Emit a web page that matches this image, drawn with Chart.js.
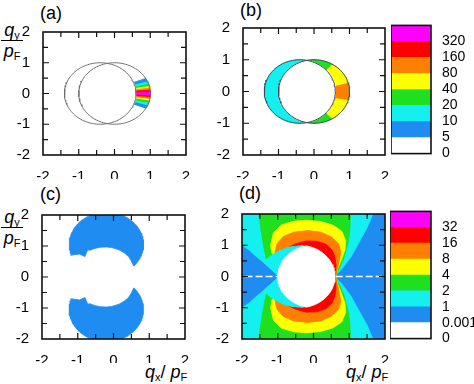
<!DOCTYPE html>
<html>
<head>
<meta charset="utf-8">
<script src="https://cdn.jsdelivr.net/npm/chart.js@4"></script>
<style>
  body { margin: 0; width: 474px; height: 384px; background: #fff; position: relative; overflow: hidden; font-family: 'Liberation Sans', 'DejaVu Sans', sans-serif; color: #000; }
  canvas { position: absolute; }
  .tag { position: absolute; font-size: 18px; line-height: 20px; }
  .frac { position: absolute; width: 22px; font-size: 18px; text-align: center; }
  .frac .num { line-height: 16px; padding-bottom: 2px; border-bottom: 1px solid #000; }
  .frac .den { line-height: 18px; padding-top: 1px; }
  .xt { position: absolute; font-size: 18px; line-height: 20px; white-space: nowrap; }
  sub { font-size: 11px; vertical-align: -3px; line-height: 0; }
</style>
</head>
<body>
<div class="tag" style="left:40px; top:3px">(a)</div>
<div class="tag" style="left:240px; top:0px">(b)</div>
<div class="tag" style="left:40px; top:184px">(c)</div>
<div class="tag" style="left:239px; top:183px">(d)</div>
<div class="frac" style="left:1px; top:22px"><div class="num"><i>q</i><sub>y</sub></div><div class="den"><i>p</i><sub>F</sub></div></div>
<div class="frac" style="left:1px; top:209px"><div class="num"><i>q</i><sub>y</sub></div><div class="den"><i>p</i><sub>F</sub></div></div>
<div class="xt" style="left:145px; top:362px"><i>q</i><sub>x</sub>/ <i>p</i><sub>F</sub></div>
<div class="xt" style="left:346px; top:362px"><i>q</i><sub>x</sub>/ <i>p</i><sub>F</sub></div>

<canvas id="pa"></canvas>
<canvas id="pb"></canvas>
<canvas id="pc"></canvas>
<canvas id="pd"></canvas>
<canvas id="cbb"></canvas>
<canvas id="cbd"></canvas>

<script>
// Axis ticks
var axisTicks = [-2, -1, 0, 1, 2];
var innerTicks = [-1.5, -1, -0.5, 0, 0.5, 1, 1.5];

// The two unit circles: centre x, centre y, radius
var circle1 = [0, 0, 1];
var circle2 = [-0.4, 0, 1];

// Colour scale, lowest level first
var levelColors = ['#ffffff', '#1f8cf2', '#14f0f0', '#1ee01e', '#ffff00', '#ff8000', '#ff0000', '#ff00ff'];
var levelsB = ['0', '5', '10', '20', '40', '80', '160', '320'];
var levelsD = ['0', '0.001', '1', '2', '4', '8', '16', '32'];

// (a) band edges where they reach circle1 (qy/pF), outermost first
var bandEdgesA = [0.49, 0.38, 0.30, 0.23, 0.17, 0.11, 0.05];
var bandLevelsA = [1, 2, 3, 4, 5, 6, 7];

// (b) band edges in degrees: outer on circle1, inner on circle2
var yellowB = [59, -59, -42, 42];
var orangeB = [16, -15, -11, 10];

// (c) upper blob: outer circle, its arc (deg) and ragged lower edge
var blobCircle = [-0.2, 1.05, 1.04];
var blobArc = [199, -42];
var blobEdge = [[0.56, 0.36], [0.50, 0.52], [0.42, 0.66], [0.30, 0.78], [0.15, 0.88], [-0.05, 0.95],
  [-0.2, 0.97], [-0.38, 0.96], [-0.55, 0.91], [-0.66, 0.86], [-0.72, 0.88], [-0.80, 0.66],
  [-0.95, 0.74], [-1.21, 0.70]];

// (d) upper half contours (lower half is the mirror)
var dCyan = [[-2.2, 2.2], [-2.2, 1.0], [-2, 1.0], [-1.8, 0.85], [-1.62, 0.66], [-1.42, 0.47], [-1.2, 0.25],
  [-1.0, 0.03], [0.62, 0.03], [0.80, 0.25], [1.05, 0.63], [1.30, 1.15], [1.50, 1.56], [1.66, 2.0], [1.7, 2.2]];
var dGreen = [[-1.32, 0.56], [-1.40, 1.0], [-1.47, 1.5], [-1.53, 2.0], [-1.56, 2.2], [1.05, 2.2], [1.03, 2.0],
  [1.02, 1.56], [0.98, 1.15], [0.86, 0.63], [0.72, 0.25], [0.62, 0.03]];
var dYellow = [[-1.16, 0.73], [-1.2, 1.0], [-1.12, 1.4], [-0.9, 1.65], [-0.55, 1.77], [-0.2, 1.8], [0.2, 1.76],
  [0.55, 1.64], [0.79, 1.45], [0.9, 1.15], [0.88, 0.85], [0.8, 0.6], [0.68, 0.25], [0.62, 0.03]];
var dOrange = [[-1.08, 0.76], [-1.02, 1.05], [-0.85, 1.28], [-0.55, 1.42], [-0.15, 1.47], [0.2, 1.42],
  [0.5, 1.27], [0.70, 1.05], [0.76, 0.8], [0.72, 0.5], [0.66, 0.2], [0.62, 0.03]];
var dRed = [[-0.7, 0.93], [-0.5, 1.05], [-0.2, 1.14], [0.1, 1.13], [0.35, 1.03], [0.52, 0.85], [0.60, 0.63],
  [0.63, 0.35], [0.62, 0.03]];
var dInside = [[-0.3, 0.3], [-0.75, 0.55]];
var dPatch = [[-1.36, 0.5], [-1.2, 0.66], [-1.0, 0.8], [-0.8, 0.9], [-0.6, 0.96], [-0.3, 0.99], [-0.2, 0.9],
  [-0.6, 0.3], [-0.98, 0.02], [-1.2, 0.25], [-1.42, 0.47]];
var dGaps = [[-1.9, -1.0], [0.62, 1.9]];

var FONT = { family: "'Liberation Sans', 'DejaVu Sans', sans-serif", size: 15 };
var BARFONT = { family: "'Liberation Sans', 'DejaVu Sans', sans-serif", size: 14 };

// helpers
function pts(list) {
  return list.map(function(p) { return { x: p[0], y: p[1] }; });
}
function flip(list) {
  return list.map(function(p) { return [p[0], -p[1]]; });
}
function arc(c, a0, a1) {
  var out = [], n = Math.max(2, Math.ceil(Math.abs(a1 - a0) / 3));
  for (var i = 0; i <= n; i++) {
    var a = (a0 + (a1 - a0) * i / n) * Math.PI / 180;
    out.push({ x: c[0] + c[2] * Math.cos(a), y: c[1] + c[2] * Math.sin(a) });
  }
  return out;
}
function poly(data, color) {
  return { data: data, backgroundColor: color, borderColor: color, borderWidth: 0.8,
    fill: 'shape', showLine: true, pointRadius: 0 };
}
function outline(data, color) {
  return { data: data, borderColor: color, borderWidth: 1, fill: false, showLine: true, pointRadius: 0 };
}

// where the circles cross
var meetX = (circle1[0] + circle2[0]) / 2;
var meetY = Math.sqrt(circle1[2] * circle1[2] - Math.pow(meetX - circle1[0], 2));
var ang1 = Math.atan2(meetY, meetX - circle1[0]) * 180 / Math.PI;
var ang2 = Math.atan2(meetY, meetX - circle2[0]) * 180 / Math.PI;
var lens = arc(circle2, ang2, -ang2).concat(arc(circle1, 360 - ang1, ang1));

// inward ticks and frame
var frame = {
  id: 'frame',
  afterDatasetsDraw: function(chart) {
    var a = chart.chartArea, ctx = chart.ctx;
    var sx = chart.scales.x, sy = chart.scales.y;
    ctx.save();
    ctx.strokeStyle = '#111';
    if (sx.type === 'linear') {
      ctx.lineWidth = 1.2;
      innerTicks.forEach(function(v) {
        var len = v % 1 === 0 ? 6 : 5;
        var x = sx.getPixelForValue(v), y = sy.getPixelForValue(v);
        ctx.beginPath();
        ctx.moveTo(x, a.bottom); ctx.lineTo(x, a.bottom - len);
        ctx.moveTo(x, a.top); ctx.lineTo(x, a.top + len);
        ctx.moveTo(a.left, y); ctx.lineTo(a.left + len, y);
        ctx.moveTo(a.right, y); ctx.lineTo(a.right - len, y);
        ctx.stroke();
      });
    }
    ctx.lineWidth = 1.6;
    ctx.strokeRect(a.left, a.top, a.right - a.left, a.bottom - a.top);
    ctx.restore();
  }
};

function panel(id, box, layers) {
  var cv = document.getElementById(id);
  cv.width = box[2] + 46;
  cv.height = box[3] + 34;
  cv.style.left = (box[0] - 36) + 'px';
  cv.style.top = (box[1] - 10) + 'px';
  return new Chart(cv, {
    type: 'scatter',
    data: { datasets: layers.slice().reverse() },
    options: {
      responsive: false,
      animation: false,
      events: [],
      layout: { padding: { top: 10, right: 10, left: 0, bottom: 0 } },
      plugins: { legend: { display: false }, tooltip: { enabled: false } },
      scales: {
        x: {
          min: -2, max: 2,
          afterBuildTicks: function(s) { s.ticks = axisTicks.map(function(v) { return { value: v }; }); },
          ticks: { padding: 5, font: FONT, color: '#000', autoSkip: false, maxRotation: 0 },
          grid: { display: false }, border: { display: false },
          afterFit: function(s) { s.height = 24; }
        },
        y: {
          min: -2, max: 2,
          afterBuildTicks: function(s) { s.ticks = axisTicks.map(function(v) { return { value: v }; }); },
          ticks: { padding: 5, font: FONT, color: '#000', autoSkip: false },
          grid: { display: false }, border: { display: false },
          afterFit: function(s) { s.width = 36; }
        }
      }
    },
    plugins: [frame]
  });
}

function colorbar(id, box, labels) {
  var cv = document.getElementById(id);
  cv.width = 474 - box[0];
  cv.height = box[3] + 20;
  cv.style.left = box[0] + 'px';
  cv.style.top = (box[1] - 10) + 'px';
  return new Chart(cv, {
    type: 'bar',
    data: {
      labels: [''],
      datasets: levelColors.map(function(c) {
        return { data: [1], backgroundColor: c, borderWidth: 0, barPercentage: 1, categoryPercentage: 1 };
      })
    },
    options: {
      responsive: false,
      animation: false,
      events: [],
      layout: { padding: { top: 10, bottom: 10, left: 0, right: 0 } },
      plugins: { legend: { display: false }, tooltip: { enabled: false } },
      scales: {
        x: { display: false, stacked: true },
        y: {
          position: 'right', stacked: true, min: 0, max: 8,
          afterBuildTicks: function(s) { s.ticks = labels.map(function(t, i) { return { value: i }; }); },
          ticks: { padding: 3, font: BARFONT, color: '#000', autoSkip: false,
            callback: function(v) { return labels[v] || ''; } },
          grid: { display: false }, border: { display: false },
          afterFit: function(s) { s.width = 474 - box[0] - box[2]; }
        }
      }
    },
    plugins: [frame]
  });
}

// (a)
var layersA = [];
bandEdgesA.forEach(function(b, i) {
  var t = Math.asin(b) * 180 / Math.PI;
  layersA.push(poly([{ x: circle2[0], y: circle2[1] }].concat(arc(circle1, t, -t)), levelColors[bandLevelsA[i]]));
});
layersA.push(poly(arc(circle2, 0, 360), '#ffffff'));
layersA.push(outline(arc(circle1, 0, 360), '#707070'));
layersA.push(outline(arc(circle2, 0, 360), '#707070'));
panel('pa', [43, 28, 143, 127], layersA);

// (b)
var layersB = [
  poly(arc(circle2, 0, 360), levelColors[2]),
  poly(arc(circle1, 0, 360), levelColors[3]),
  poly(arc(circle1, yellowB[0], yellowB[1]).concat(arc(circle2, yellowB[2], yellowB[3])), levelColors[4]),
  poly(arc(circle1, orangeB[0], orangeB[1]).concat(arc(circle2, orangeB[2], orangeB[3])), levelColors[5]),
  poly(lens, '#ffffff'),
  outline(arc(circle1, 0, 360), '#3c4a5a'),
  outline(arc(circle2, 0, 360), '#3c4a5a')
];
panel('pb', [243, 24, 142, 131], layersB);
colorbar('cbb', [391, 24, 40, 131], levelsB);

// (c)
var blobUp = arc(blobCircle, blobArc[0], blobArc[1]).concat(pts(blobEdge));
var blobDown = blobUp.map(function(p) { return { x: p.x, y: -p.y }; });
panel('pc', [42, 211, 143, 128], [poly(blobUp, levelColors[1]), poly(blobDown, levelColors[1])]);

// (d)
var layersD = [poly(pts([[-2.2, -2.2], [2.2, -2.2], [2.2, 2.2], [-2.2, 2.2]]), levelColors[1])];
[[dCyan, 2, false], [dGreen, 3, true], [dYellow, 4, true], [dOrange, 5, true], [dRed, 6, true], [dPatch, 2, false]]
  .forEach(function(c) {
    var up = c[2] ? c[0].concat(dInside) : c[0];
    layersD.push(poly(pts(up), levelColors[c[1]]));
    layersD.push(poly(pts(flip(up)), levelColors[c[1]]));
  });
layersD.push(poly(lens, '#ffffff'));
dGaps.forEach(function(g) {
  var line = outline(pts([[g[0], 0], [g[1], 0]]), '#ffffff');
  line.borderWidth = 1.6;
  line.borderDash = [7, 3];
  layersD.push(line);
});
panel('pd', [242, 210, 143, 129], layersD);
colorbar('cbd', [390, 210, 41, 130], levelsD);
</script>
</body>
</html>
